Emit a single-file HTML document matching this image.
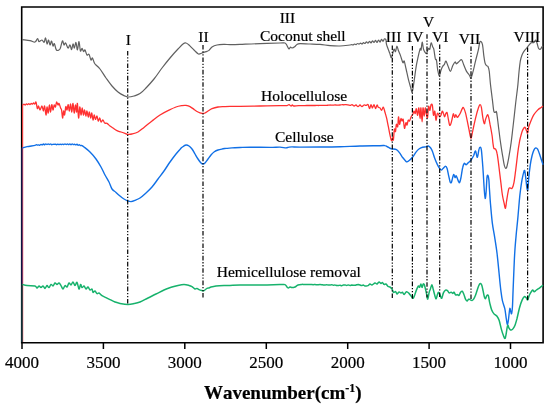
<!DOCTYPE html>
<html><head><meta charset="utf-8"><title>FTIR spectra</title>
<style>html,body{margin:0;padding:0;background:#fff}body{width:550px;height:411px;position:relative;overflow:hidden}</style>
</head><body>
<svg width="550" height="411" viewBox="0 0 550 411" style="position:absolute;left:0;top:0">
<rect width="550" height="411" fill="#fff"/>
<path d="M21.7,6.25 V343.55 M543.1,6.25 V343.55 M20.9,7.05 H543.9 M20.9,342.75 H543.9" fill="none" stroke="#000" stroke-width="1.6"/>
<line x1="22.0" y1="342.5" x2="22.0" y2="349" stroke="#000" stroke-width="1.5"/>
<line x1="103.4" y1="342.5" x2="103.4" y2="349" stroke="#000" stroke-width="1.5"/>
<line x1="184.8" y1="342.5" x2="184.8" y2="349" stroke="#000" stroke-width="1.5"/>
<line x1="266.3" y1="342.5" x2="266.3" y2="349" stroke="#000" stroke-width="1.5"/>
<line x1="347.7" y1="342.5" x2="347.7" y2="349" stroke="#000" stroke-width="1.5"/>
<line x1="429.1" y1="342.5" x2="429.1" y2="349" stroke="#000" stroke-width="1.5"/>
<line x1="510.5" y1="342.5" x2="510.5" y2="349" stroke="#000" stroke-width="1.5"/>
<path d="M22.7,104.6 V342" stroke="#ff3030" stroke-width="1.0"/>
<path d="M22,147.6 V342" stroke="#1b2c86" stroke-width="1.0"/>
<path d="M22,284 V342" stroke="#104a2c" stroke-width="1.0"/>
<g fill="none" stroke-linejoin="round" stroke-linecap="butt">
<path d="M22.0,39.6C23.3,39.8 27.8,40.2 30.0,40.6C32.2,41.0 33.7,42.3 35.0,42.0C36.3,41.7 36.9,38.7 37.6,38.6C38.3,38.5 38.3,41.4 39.0,41.6C39.7,41.8 41.2,39.9 42.0,40.0C42.8,40.1 43.4,42.7 44.0,42.4C44.6,42.1 45.1,37.7 45.6,38.0C46.1,38.3 46.5,43.7 47.0,44.0C47.5,44.3 48.1,39.8 48.6,40.0C49.1,40.2 49.5,44.8 50.0,45.0C50.5,45.2 51.1,40.8 51.6,41.0C52.1,41.2 52.5,45.6 53.0,46.0C53.5,46.4 53.8,42.9 54.4,43.6C55.0,44.3 55.5,49.1 56.4,50.0C57.3,50.9 59.0,50.5 60.0,49.0C61.0,47.5 61.7,41.7 62.4,41.0C63.1,40.3 63.5,44.7 64.0,45.0C64.5,45.3 64.9,42.5 65.6,43.0C66.3,43.5 67.3,47.7 68.0,48.0C68.7,48.3 69.4,44.7 70.0,45.0C70.6,45.3 71.1,49.8 71.6,49.6C72.1,49.4 72.5,44.3 73.0,44.0C73.5,43.7 73.9,48.3 74.4,48.0C74.9,47.7 75.5,42.1 76.0,42.4C76.5,42.7 76.9,50.1 77.4,50.0C77.9,49.9 78.5,41.4 79.0,41.6C79.5,41.8 79.9,49.9 80.4,51.0C80.9,52.1 81.5,48.3 82.0,48.4C82.5,48.5 83.1,51.3 83.6,51.6C84.1,51.9 84.4,49.4 85.0,50.0C85.6,50.6 86.3,54.3 87.0,55.0C87.7,55.7 88.3,53.6 89.0,54.4C89.7,55.2 90.4,59.4 91.0,60.0C91.6,60.6 91.8,57.5 92.4,58.0C93.0,58.5 93.8,61.8 94.4,63.0C95.0,64.2 95.1,64.0 96.0,65.0C96.9,66.0 98.3,66.8 100.0,69.0C101.7,71.2 104.0,75.2 106.0,78.0C108.0,80.8 110.0,83.7 112.0,86.0C114.0,88.3 116.0,90.4 118.0,92.0C120.0,93.6 122.3,94.8 124.0,95.6C125.7,96.4 126.3,96.9 128.0,97.0C129.7,97.1 132.0,96.6 134.0,96.0C136.0,95.4 138.0,94.9 140.0,93.6C142.0,92.3 143.7,90.4 146.0,88.0C148.3,85.6 151.3,82.3 154.0,79.0C156.7,75.7 159.3,71.5 162.0,68.0C164.7,64.5 167.3,61.2 170.0,58.0C172.7,54.8 175.8,51.3 178.0,49.0C180.2,46.7 181.7,45.0 183.0,44.0C184.3,43.0 185.0,42.8 186.0,43.0C187.0,43.2 187.7,43.8 189.0,45.0C190.3,46.2 192.4,48.5 194.0,50.0C195.6,51.5 197.1,53.5 198.4,54.0C199.7,54.5 200.7,53.4 202.0,53.0C203.3,52.6 204.8,52.0 206.0,51.6C207.2,51.2 208.0,51.2 209.0,50.4C210.0,49.6 210.7,47.9 212.0,47.0C213.3,46.1 215.0,45.4 217.0,45.0C219.0,44.6 221.8,44.5 224.0,44.4C226.2,44.3 227.3,44.6 230.0,44.6C232.7,44.6 235.0,44.6 240.0,44.4C245.0,44.2 253.3,43.8 260.0,43.6C266.7,43.4 275.8,43.1 280.0,43.0C284.2,42.9 283.8,42.6 285.0,43.0C286.2,43.4 286.3,44.6 287.0,45.6C287.7,46.6 288.4,48.8 289.0,49.0C289.6,49.2 289.9,47.2 290.4,47.0C290.9,46.8 291.2,48.1 292.0,48.0C292.8,47.9 294.2,47.0 295.0,46.4C295.8,45.8 296.2,44.9 297.0,44.4C297.8,43.9 297.8,43.7 300.0,43.6C302.2,43.5 306.7,43.9 310.0,44.0C313.3,44.1 316.7,44.1 320.0,44.4C323.3,44.7 326.7,45.3 330.0,45.6C333.3,45.9 336.7,46.1 340.0,46.0C343.3,45.9 348.1,45.2 350.0,45.0C351.9,44.8 351.0,44.6 351.5,44.5C352.0,44.5 352.5,45.0 353.0,44.9C353.5,44.8 354.0,44.1 354.5,44.0C355.0,44.0 355.5,44.7 356.0,44.6C356.5,44.5 357.0,43.5 357.5,43.5C358.0,43.4 358.5,44.2 359.0,44.1C359.5,44.1 360.0,43.2 360.5,43.1C361.0,43.1 361.5,44.1 362.0,44.0C362.5,43.9 363.0,42.7 363.5,42.6C364.0,42.5 364.5,43.6 365.0,43.5C365.5,43.4 366.0,41.9 366.5,41.8C367.0,41.8 367.5,43.3 368.0,43.2C368.5,43.2 369.0,41.4 369.5,41.4C370.0,41.3 370.5,43.0 371.0,42.9C371.5,42.8 372.0,41.0 372.5,40.9C373.0,40.8 373.5,42.5 374.0,42.4C374.5,42.4 375.0,40.4 375.5,40.4C376.0,40.4 376.5,42.5 377.0,42.5C377.5,42.4 378.0,40.0 378.5,40.0C379.0,39.9 379.5,42.2 380.0,42.1C380.5,42.0 381.0,39.5 381.5,39.4C382.0,39.3 382.5,41.4 383.0,41.3C383.5,41.3 384.0,39.0 384.5,38.8C385.0,38.6 385.7,39.1 386.0,40.0C386.3,40.9 385.9,42.2 386.5,44.4C387.1,46.6 389.0,51.2 389.8,53.4C390.6,55.6 390.8,58.2 391.5,57.5C392.2,56.8 393.2,50.3 393.9,49.3C394.6,48.3 395.0,52.2 395.5,51.7C396.0,51.2 396.4,46.2 396.9,46.1C397.4,46.0 397.9,49.2 398.5,50.8C399.1,52.4 399.8,53.6 400.5,55.6C401.2,57.6 402.3,61.8 402.9,62.7C403.5,63.6 403.7,60.1 404.2,61.1C404.7,62.1 405.4,66.0 406.1,69.0C406.8,72.0 407.6,76.1 408.4,79.3C409.2,82.5 410.2,85.8 410.8,88.0C411.4,90.2 411.7,92.4 412.1,92.3C412.5,92.2 412.8,89.9 413.2,87.2C413.6,84.5 414.3,79.8 414.8,76.1C415.3,72.4 415.8,68.5 416.4,65.1C417.0,61.7 417.8,58.4 418.4,55.6C419.0,52.8 419.9,49.3 420.3,48.4C420.8,47.5 420.8,51.0 421.1,50.0C421.4,49.0 421.8,42.2 422.2,42.1C422.6,42.0 423.0,47.5 423.5,49.2C424.0,50.9 424.6,51.7 425.1,52.4C425.6,53.1 426.0,53.9 426.6,53.2C427.2,52.5 428.0,49.1 428.5,48.4C429.0,47.7 429.4,50.1 429.8,49.2C430.2,48.3 430.6,43.3 431.1,42.9C431.6,42.5 432.2,45.8 432.7,46.9C433.1,48.0 433.4,47.2 433.8,49.2C434.2,51.2 434.9,56.9 435.3,58.7C435.8,60.6 436.1,58.4 436.5,60.3C436.9,62.1 437.2,67.2 437.7,69.8C438.2,72.4 438.8,76.0 439.3,76.1C439.8,76.2 440.4,72.2 440.9,70.6C441.4,69.0 441.9,67.6 442.5,66.6C443.1,65.5 443.8,65.2 444.4,64.3C445.0,63.4 445.3,60.8 445.9,61.1C446.5,61.4 447.2,64.2 448.0,65.9C448.8,67.6 449.6,71.5 450.4,71.4C451.2,71.3 452.0,67.1 452.8,65.5C453.6,63.9 454.5,62.3 455.1,62.0C455.7,61.7 455.7,63.9 456.4,63.8C457.1,63.7 458.2,62.2 459.1,61.5C460.0,60.8 460.8,59.3 461.6,59.8C462.4,60.3 462.9,62.8 463.7,64.7C464.5,66.6 465.5,69.4 466.4,71.1C467.3,72.8 468.4,73.9 469.2,75.0C470.0,76.1 470.4,78.2 471.0,77.8C471.6,77.4 472.1,75.2 472.8,72.4C473.6,69.6 474.6,64.8 475.5,61.1C476.4,57.4 477.6,53.2 478.3,50.1C479.0,47.0 479.2,44.2 479.6,42.8C480.1,41.3 480.5,41.1 481.0,41.4C481.5,41.7 482.0,42.3 482.5,44.7C483.0,47.1 483.4,52.6 483.8,55.6C484.2,58.6 484.6,61.2 485.0,62.9C485.4,64.6 486.0,65.1 486.5,65.7C487.0,66.3 487.6,65.7 488.0,66.6C488.4,67.5 488.8,68.0 489.2,71.0C489.6,74.0 490.0,79.9 490.5,84.6C491.0,89.3 491.8,94.8 492.3,99.2C492.9,103.6 493.3,108.8 493.8,111.0C494.3,113.2 494.9,112.1 495.3,112.3C495.8,112.5 496.1,110.5 496.5,112.0C496.9,113.5 497.4,118.0 497.8,121.0C498.2,124.0 498.3,125.8 498.9,130.0C499.4,134.2 500.4,141.8 501.1,146.4C501.8,151.0 502.3,154.2 502.9,157.4C503.4,160.6 503.9,163.8 504.4,165.6C504.9,167.4 505.3,168.2 505.7,168.3C506.1,168.5 506.4,168.3 506.9,166.5C507.4,164.7 508.1,161.3 508.8,157.4C509.5,153.5 510.4,147.9 511.1,142.8C511.8,137.7 512.2,133.7 513.0,127.0C513.8,120.3 514.9,109.9 515.7,102.8C516.5,95.7 517.4,89.7 517.9,84.6C518.4,79.5 518.6,75.9 519.0,72.0C519.4,68.1 519.8,64.0 520.3,61.1C520.8,58.2 521.4,56.5 522.1,54.7C522.9,52.9 524.0,51.2 524.8,50.1C525.5,49.0 526.0,49.0 526.6,48.3C527.2,47.5 527.7,46.5 528.5,45.6C529.3,44.7 530.3,43.3 531.2,42.8C532.1,42.3 533.1,43.0 533.9,42.5C534.7,42.0 535.2,39.9 535.8,40.1C536.3,40.3 536.8,42.4 537.2,43.8C537.7,45.2 538.0,47.4 538.5,48.3C539.0,49.2 539.7,49.5 540.3,49.2C540.9,48.9 541.8,47.0 542.2,46.5C542.7,46.0 542.9,46.1 543.0,46.0" stroke="#606060" stroke-width="1.2"/>
<path d="M22.5,105.0C22.8,104.9 23.6,104.2 24.0,104.2C24.4,104.2 24.8,105.1 25.2,105.0C25.6,104.9 26.0,103.9 26.4,103.8C26.8,103.7 27.2,104.6 27.6,104.6C28.0,104.6 28.4,103.6 28.8,103.6C29.2,103.6 29.6,104.6 30.0,104.6C30.4,104.6 30.8,103.5 31.2,103.4C31.6,103.3 32.0,104.3 32.4,104.2C32.8,104.1 33.2,103.0 33.6,103.0C34.0,103.0 34.4,104.2 34.8,104.0C35.2,103.8 35.6,101.2 36.0,102.0C36.4,102.8 37.0,107.9 37.4,108.6C37.8,109.3 38.2,105.8 38.6,106.0C39.0,106.2 39.4,110.0 40.0,110.0C40.6,110.0 41.4,105.8 42.0,106.0C42.6,106.2 43.0,111.0 43.4,111.0C43.8,111.0 44.2,105.3 44.6,106.0C45.0,106.7 45.6,114.8 46.0,115.0C46.4,115.2 46.6,107.3 47.0,107.0C47.4,106.7 47.8,113.3 48.2,113.0C48.6,112.7 49.0,105.2 49.4,105.0C49.8,104.8 50.2,112.1 50.6,112.0C51.0,111.9 51.4,104.9 51.8,104.6C52.2,104.3 52.6,109.9 53.0,110.0C53.4,110.1 53.8,105.5 54.2,105.0C54.6,104.5 55.0,107.5 55.4,107.0C55.8,106.5 56.2,102.3 56.6,102.0C57.0,101.7 57.6,104.8 58.0,105.0C58.4,105.2 58.6,102.9 59.0,103.4C59.4,103.9 60.2,106.9 60.6,108.0C61.0,109.1 61.3,108.3 61.6,110.0C61.9,111.7 62.3,117.8 62.6,118.0C62.9,118.2 63.3,111.5 63.6,111.0C63.9,110.5 64.2,115.7 64.6,115.0C65.0,114.3 65.4,107.4 65.8,106.6C66.2,105.8 66.6,110.3 67.0,110.0C67.4,109.7 67.8,104.4 68.2,104.6C68.6,104.8 69.0,111.1 69.4,111.0C69.8,110.9 70.2,103.8 70.6,104.0C71.0,104.2 71.4,112.1 71.8,112.0C72.2,111.9 72.6,103.2 73.0,103.4C73.4,103.6 73.8,112.7 74.2,113.0C74.6,113.3 75.0,105.2 75.4,105.0C75.8,104.8 76.3,112.3 76.6,112.0C76.9,111.7 77.1,102.4 77.4,103.4C77.7,104.4 78.2,117.4 78.6,118.0C79.0,118.6 79.4,107.5 79.8,107.0C80.2,106.5 80.6,114.8 81.0,115.0C81.4,115.2 81.8,108.0 82.2,108.0C82.6,108.0 83.0,114.7 83.4,115.0C83.8,115.3 84.2,109.8 84.6,110.0C85.0,110.2 85.4,115.8 85.8,116.0C86.2,116.2 86.6,110.8 87.0,111.0C87.4,111.2 87.8,116.8 88.2,117.0C88.6,117.2 89.0,111.8 89.4,112.0C89.8,112.2 90.2,117.8 90.6,118.0C91.0,118.2 91.4,112.7 91.8,113.0C92.2,113.3 92.6,119.7 93.0,120.0C93.4,120.3 93.8,115.1 94.2,115.0C94.6,114.9 94.9,119.2 95.4,119.4C95.9,119.6 96.5,115.7 97.0,116.0C97.5,116.3 97.7,120.7 98.2,121.0C98.7,121.3 99.3,117.8 99.8,118.0C100.3,118.2 100.5,121.7 101.0,122.0C101.5,122.3 102.4,119.8 103.0,120.0C103.6,120.2 103.9,122.4 104.6,123.0C105.3,123.6 106.1,122.9 107.0,123.4C107.9,123.9 109.0,125.2 110.0,126.0C111.0,126.8 111.8,127.2 113.0,128.0C114.2,128.8 115.7,129.9 117.0,130.6C118.3,131.3 119.7,131.5 121.0,132.0C122.3,132.5 123.8,133.0 125.0,133.4C126.2,133.8 126.8,134.3 128.0,134.4C129.2,134.5 130.3,134.4 132.0,134.0C133.7,133.6 136.0,133.1 138.0,132.0C140.0,130.9 141.7,129.2 144.0,127.4C146.3,125.6 149.3,123.1 152.0,121.0C154.7,118.9 157.3,116.7 160.0,115.0C162.7,113.3 165.3,111.9 168.0,110.6C170.7,109.3 173.7,107.8 176.0,107.0C178.3,106.2 180.3,105.9 182.0,105.6C183.7,105.3 184.7,105.2 186.0,105.4C187.3,105.6 188.7,105.9 190.0,106.6C191.3,107.3 192.7,108.5 194.0,109.4C195.3,110.3 196.7,111.3 198.0,112.0C199.3,112.7 200.8,113.2 202.0,113.4C203.2,113.6 204.0,113.4 205.0,113.0C206.0,112.6 206.8,111.7 208.0,111.0C209.2,110.3 210.3,109.3 212.0,108.6C213.7,107.9 216.0,107.3 218.0,107.0C220.0,106.7 222.0,106.7 224.0,106.6C226.0,106.5 227.3,106.4 230.0,106.4C232.7,106.4 235.0,106.5 240.0,106.4C245.0,106.3 253.3,106.1 260.0,106.0C266.7,105.9 275.5,105.7 280.0,105.6C284.5,105.5 285.5,105.8 287.0,105.6C288.5,105.4 288.3,104.5 289.0,104.6C289.7,104.7 290.4,105.9 291.0,106.0C291.6,106.1 291.9,105.0 292.4,105.0C292.9,105.0 292.7,105.9 294.0,106.0C295.3,106.1 298.7,105.7 300.0,105.6C301.3,105.5 301.1,105.6 301.7,105.6C302.2,105.6 302.8,105.6 303.3,105.6C303.9,105.6 304.4,105.6 305.0,105.6C305.6,105.5 306.1,105.5 306.7,105.5C307.2,105.5 307.8,105.5 308.3,105.5C308.9,105.5 309.4,105.5 310.0,105.5C310.6,105.5 311.1,105.5 311.7,105.5C312.2,105.5 312.8,105.5 313.3,105.5C313.9,105.5 314.4,105.5 315.0,105.5C315.6,105.4 316.1,105.4 316.7,105.4C317.2,105.4 317.8,105.5 318.3,105.5C318.9,105.5 319.4,105.4 320.0,105.4C320.6,105.4 321.1,105.3 321.7,105.3C322.2,105.3 322.8,105.3 323.3,105.3C323.9,105.3 324.4,105.4 325.0,105.4C325.6,105.4 326.1,105.3 326.7,105.3C327.2,105.2 327.8,105.3 328.3,105.2C328.9,105.2 329.4,105.1 330.0,105.0C330.6,105.0 331.1,105.1 331.7,105.1C332.2,105.2 332.8,105.2 333.3,105.2C333.9,105.1 334.4,104.9 335.0,104.9C335.6,104.9 336.1,105.1 336.7,105.1C337.2,105.1 337.8,105.1 338.3,105.1C338.9,105.1 339.4,105.1 340.0,105.0C340.6,104.9 341.3,104.7 342.0,104.7C342.7,104.6 343.3,104.8 344.0,104.8C344.7,104.8 345.0,104.5 346.0,104.6C347.0,104.7 349.0,105.4 350.0,105.4C351.0,105.4 351.3,104.5 352.0,104.6C352.7,104.7 353.3,105.9 354.0,106.0C354.7,106.1 355.3,104.9 356.0,105.0C356.7,105.1 357.3,106.6 358.0,106.6C358.7,106.6 359.3,105.0 360.0,105.0C360.7,105.0 361.3,106.6 362.0,106.6C362.7,106.6 363.3,105.2 364.0,105.0C364.7,104.8 365.3,105.5 366.0,105.4C366.7,105.3 367.4,104.1 368.0,104.6C368.6,105.1 369.1,108.6 369.6,108.6C370.1,108.6 370.5,104.7 371.0,104.6C371.5,104.5 371.9,108.0 372.4,108.0C372.9,108.0 373.5,104.5 374.0,104.6C374.5,104.7 375.1,108.5 375.6,108.6C376.1,108.7 376.5,105.2 377.0,105.0C377.5,104.8 377.9,106.9 378.4,107.4C378.9,107.9 379.5,107.4 380.0,107.9C380.5,108.4 381.1,110.5 381.6,110.4C382.2,110.3 382.8,106.8 383.3,107.1C383.9,107.4 384.4,110.2 384.9,112.0C385.4,113.8 385.9,115.4 386.5,117.7C387.1,120.0 387.6,123.2 388.2,125.9C388.8,128.6 389.2,131.7 389.8,134.1C390.4,136.5 391.0,140.0 391.5,140.6C392.0,141.2 392.5,137.5 392.8,137.4C393.1,137.3 393.1,141.2 393.4,139.8C393.7,138.4 394.0,130.6 394.4,129.2C394.8,127.8 395.2,132.4 395.5,131.6C395.8,130.8 396.0,125.1 396.4,124.3C396.8,123.5 397.3,127.9 397.7,126.7C398.1,125.5 398.2,117.3 398.5,116.9C398.8,116.5 399.2,124.0 399.6,124.3C400.0,124.6 400.5,119.1 400.9,118.6C401.3,118.0 401.7,120.9 402.1,121.0C402.5,121.1 402.8,118.2 403.2,119.4C403.6,120.6 404.1,127.9 404.5,128.4C404.9,128.9 405.5,123.1 405.9,122.6C406.3,122.0 406.6,125.5 407.0,125.1C407.4,124.7 407.8,120.9 408.2,120.2C408.6,119.5 409.0,121.5 409.5,121.0C410.0,120.5 410.6,118.0 411.1,116.9C411.6,115.8 412.2,115.5 412.7,114.5C413.2,113.5 413.6,111.4 414.0,111.2C414.4,111.0 414.8,114.0 415.2,113.6C415.6,113.2 415.9,108.4 416.3,108.7C416.7,109.0 417.2,115.4 417.6,115.3C418.0,115.2 418.4,107.4 418.8,107.9C419.2,108.5 419.8,118.6 420.1,118.6C420.5,118.6 420.6,107.4 420.9,107.9C421.2,108.4 421.8,121.8 422.1,121.8C422.5,121.8 422.6,108.9 423.0,107.9C423.4,107.0 423.8,116.1 424.2,116.1C424.6,116.1 424.9,108.3 425.3,107.9C425.7,107.5 425.9,112.0 426.3,113.6C426.7,115.2 427.1,118.9 427.5,117.7C427.9,116.5 428.2,107.5 428.6,106.3C429.0,105.1 429.5,110.7 429.9,110.4C430.3,110.1 430.7,105.4 431.1,104.6C431.5,103.8 432.0,103.7 432.4,105.5C432.8,107.3 433.1,114.3 433.5,115.3C433.9,116.2 434.4,110.4 434.8,111.2C435.2,112.0 435.6,119.8 436.0,120.2C436.4,120.6 436.9,114.5 437.3,113.6C437.7,112.6 438.2,114.0 438.6,114.5C439.0,115.0 439.3,116.8 439.7,116.9C440.1,117.0 440.5,116.2 440.9,115.3C441.3,114.3 441.8,111.5 442.2,111.2C442.6,110.9 443.1,112.6 443.5,113.6C443.9,114.5 444.2,116.9 444.6,116.9C445.0,116.9 445.4,114.3 445.8,113.6C446.2,112.9 446.7,111.8 447.1,112.8C447.5,113.8 448.0,117.4 448.4,119.4C448.8,121.5 449.2,124.3 449.6,125.1C450.0,125.9 450.3,125.2 450.7,124.3C451.1,123.4 451.6,121.2 452.0,119.5C452.4,117.8 452.9,114.1 453.3,113.8C453.7,113.5 454.2,117.2 454.6,117.4C455.0,117.6 455.4,114.7 455.8,114.7C456.2,114.7 456.8,117.2 457.3,117.4C457.8,117.6 458.4,116.2 458.8,115.6C459.2,115.0 459.4,115.0 460.0,113.8C460.6,112.6 461.8,109.3 462.4,108.3C463.0,107.3 463.2,107.2 463.7,108.0C464.2,108.8 464.9,110.7 465.5,112.9C466.1,115.1 466.7,118.1 467.3,121.1C467.9,124.1 468.7,128.1 469.3,131.0C469.9,133.9 470.4,138.4 471.0,138.4C471.6,138.4 471.9,134.3 472.7,131.0C473.4,127.7 474.6,122.2 475.5,118.4C476.4,114.6 477.5,110.6 478.3,108.3C479.1,106.0 479.6,104.8 480.1,104.7C480.6,104.6 480.9,105.3 481.4,107.4C481.8,109.5 482.3,114.7 482.8,117.4C483.3,120.1 483.8,123.5 484.3,123.8C484.8,124.1 485.1,120.8 485.6,119.3C486.1,117.8 486.9,115.0 487.4,114.7C487.9,114.4 488.2,115.7 488.7,117.4C489.1,119.1 489.6,121.8 490.1,124.7C490.7,127.6 491.5,132.0 492.0,135.0C492.5,138.0 492.6,140.6 492.9,142.8C493.2,145.0 493.4,147.1 493.8,148.2C494.2,149.3 495.1,148.3 495.6,149.2C496.2,150.1 496.6,150.8 497.1,153.7C497.7,156.6 498.3,161.6 498.9,166.5C499.5,171.4 500.3,178.2 500.9,182.9C501.5,187.7 501.8,191.6 502.4,195.0C502.9,198.4 503.7,201.3 504.2,203.5C504.7,205.7 505.0,208.7 505.4,208.3C505.8,207.9 506.2,203.5 506.6,201.0C507.0,198.5 507.4,195.6 507.8,193.5C508.2,191.4 508.5,189.5 508.9,188.6C509.3,187.7 509.7,188.0 510.2,188.0C510.7,188.0 511.4,189.2 512.0,188.4C512.6,187.6 513.3,186.0 513.9,182.9C514.5,179.8 515.0,175.3 515.7,170.1C516.4,164.9 517.3,156.4 517.9,151.9C518.5,147.4 518.9,145.3 519.3,143.0C519.7,140.7 519.8,139.9 520.3,138.0C520.8,136.1 521.5,133.2 522.1,131.5C522.7,129.8 523.4,128.7 523.9,128.0C524.4,127.3 524.8,127.0 525.2,127.5C525.7,128.0 526.2,130.2 526.6,131.1C527.0,132.0 527.2,133.8 527.6,133.0C528.0,132.2 528.2,128.7 528.8,126.6C529.4,124.5 530.4,122.2 531.2,120.2C532.1,118.2 532.8,116.4 533.9,114.7C535.0,113.0 536.4,111.3 537.6,110.1C538.8,108.9 540.3,108.1 541.2,107.4C542.1,106.7 542.7,106.3 543.0,106.1" stroke="#ff3030" stroke-width="1.3"/>
<path d="M22.5,148.0C23.2,147.8 24.9,147.0 27.0,146.6C29.1,146.2 33.5,145.7 35.0,145.4C36.5,145.1 35.8,144.9 36.2,144.8C36.6,144.8 37.0,145.1 37.4,145.1C37.8,145.1 38.2,144.9 38.6,144.9C39.0,144.9 39.4,145.2 39.8,145.2C40.2,145.1 40.6,144.5 41.0,144.4C41.4,144.4 41.8,144.9 42.2,144.9C42.6,144.8 43.0,144.1 43.4,144.0C43.8,144.0 44.2,144.7 44.6,144.7C45.0,144.6 45.4,143.9 45.8,143.9C46.2,143.9 46.6,144.5 47.0,144.5C47.4,144.5 47.8,143.9 48.2,143.9C48.6,143.9 49.0,144.5 49.4,144.5C49.8,144.5 50.2,143.8 50.6,143.9C51.0,143.9 51.4,144.6 51.8,144.7C52.2,144.8 52.6,144.3 53.0,144.3C53.4,144.2 53.8,144.4 54.2,144.4C54.6,144.4 55.0,144.1 55.4,144.2C55.8,144.3 56.2,144.8 56.6,144.7C57.0,144.7 57.4,144.1 57.8,144.1C58.2,144.1 58.6,144.6 59.0,144.6C59.4,144.6 59.8,144.2 60.2,144.2C60.6,144.2 61.0,144.5 61.4,144.5C61.8,144.5 62.2,144.1 62.6,144.1C63.0,144.1 63.4,144.5 63.8,144.5C64.2,144.4 64.6,144.0 65.0,144.0C65.4,144.1 65.8,144.6 66.2,144.6C66.6,144.5 67.0,143.9 67.4,143.9C67.8,143.9 68.2,144.6 68.6,144.6C69.0,144.6 69.4,143.9 69.8,143.9C70.2,143.9 70.6,144.7 71.0,144.7C71.4,144.7 71.8,143.9 72.2,143.9C72.6,143.8 73.0,144.6 73.4,144.6C73.8,144.7 74.2,144.3 74.6,144.3C75.0,144.4 75.4,144.9 75.8,144.9C76.2,144.9 76.6,144.1 77.0,144.2C77.4,144.3 77.8,145.1 78.2,145.2C78.6,145.3 79.0,144.7 79.4,144.8C79.8,144.8 80.2,145.5 80.6,145.6C81.0,145.7 81.2,145.2 81.8,145.5C82.4,145.7 82.6,145.9 84.0,147.0C85.4,148.1 88.0,150.0 90.0,152.0C92.0,154.0 94.2,156.5 96.0,159.0C97.8,161.5 99.5,164.3 101.0,167.0C102.5,169.7 103.7,172.5 105.0,175.0C106.3,177.5 107.8,179.7 109.0,182.0C110.2,184.3 110.8,187.3 112.0,189.0C113.2,190.7 114.7,191.2 116.0,192.4C117.3,193.6 118.7,194.9 120.0,196.0C121.3,197.1 122.7,198.2 124.0,199.0C125.3,199.8 126.8,200.6 128.0,201.0C129.2,201.4 129.8,201.7 131.0,201.6C132.2,201.5 133.5,201.0 135.0,200.4C136.5,199.8 138.2,199.2 140.0,198.0C141.8,196.8 144.0,194.8 146.0,193.0C148.0,191.2 150.0,189.3 152.0,187.0C154.0,184.7 156.0,181.7 158.0,179.0C160.0,176.3 162.0,173.8 164.0,171.0C166.0,168.2 168.0,164.8 170.0,162.0C172.0,159.2 174.3,156.1 176.0,154.0C177.7,151.9 179.0,150.5 180.0,149.4C181.0,148.3 181.0,148.0 182.0,147.3C183.0,146.6 184.8,145.2 186.0,145.0C187.2,144.8 188.0,145.3 189.0,146.0C190.0,146.7 191.0,147.7 192.0,149.0C193.0,150.3 194.0,152.3 195.0,154.0C196.0,155.7 197.0,157.5 198.0,159.0C199.0,160.5 200.2,162.2 201.0,163.0C201.8,163.8 202.3,164.0 203.0,164.0C203.7,164.0 204.2,163.8 205.0,163.0C205.8,162.2 207.0,160.3 208.0,159.0C209.0,157.7 210.0,156.2 211.0,155.0C212.0,153.8 212.8,152.8 214.0,152.0C215.2,151.2 216.5,150.5 218.0,150.0C219.5,149.5 221.7,149.1 223.0,148.8C224.3,148.5 224.5,148.6 226.0,148.4C227.5,148.2 229.7,148.1 232.0,147.9C234.3,147.8 237.0,147.6 240.0,147.5C243.0,147.4 245.0,147.2 250.0,147.2C255.0,147.2 265.0,147.4 270.0,147.4C275.0,147.4 277.3,147.0 280.0,147.1C282.7,147.2 284.5,147.9 286.0,147.9C287.5,147.9 288.0,147.3 289.0,147.1C290.0,146.9 290.2,146.9 292.0,146.9C293.8,146.9 295.3,147.1 300.0,147.1C304.7,147.1 313.3,147.1 320.0,147.0C326.7,146.9 333.3,147.0 340.0,146.8C346.7,146.6 353.3,146.2 360.0,146.0C366.7,145.8 375.9,145.8 380.0,145.7C384.1,145.6 383.5,145.3 384.9,145.6C386.3,145.8 387.1,146.7 388.2,147.2C389.3,147.7 390.1,148.4 391.5,148.8C392.9,149.2 395.0,148.9 396.4,149.6C397.8,150.3 398.5,151.5 399.6,152.9C400.7,154.3 401.9,156.5 402.9,157.8C403.9,159.1 404.7,160.1 405.4,160.8C406.1,161.5 406.3,162.0 407.0,161.9C407.7,161.8 408.6,161.1 409.5,160.3C410.4,159.5 411.6,158.4 412.7,157.0C413.8,155.6 414.9,153.5 416.0,152.1C417.1,150.7 418.2,149.6 419.3,148.8C420.4,148.0 421.5,147.5 422.6,147.2C423.7,146.9 424.9,147.1 425.8,146.9C426.8,146.7 427.5,145.8 428.3,146.0C429.1,146.2 430.0,147.1 430.7,148.0C431.4,148.9 431.7,149.5 432.4,151.3C433.1,153.1 434.0,156.4 434.8,158.6C435.6,160.8 436.5,162.8 437.3,164.4C438.1,166.1 439.0,167.6 439.7,168.5C440.4,169.4 440.8,170.1 441.4,170.1C441.9,170.1 442.3,169.1 443.0,168.5C443.7,167.9 444.8,166.3 445.5,166.3C446.2,166.3 446.6,166.9 447.1,168.5C447.6,170.1 448.2,173.6 448.7,175.8C449.2,178.0 449.6,180.4 450.0,181.6C450.4,182.8 450.8,183.1 451.2,182.7C451.6,182.3 451.9,180.5 452.3,179.1C452.7,177.7 453.2,174.8 453.6,174.5C454.1,174.2 454.6,177.3 455.0,177.5C455.4,177.7 455.7,175.7 456.1,175.8C456.5,175.9 456.9,177.3 457.3,178.3C457.7,179.3 458.2,180.9 458.6,181.6C459.0,182.3 459.3,183.1 459.7,182.4C460.1,181.7 460.5,180.0 461.0,177.5C461.5,175.0 462.1,169.8 462.7,167.5C463.2,165.2 463.7,163.9 464.3,163.4C464.9,162.9 465.5,164.8 466.1,164.7C466.8,164.6 467.4,163.6 468.2,162.8C469.0,162.0 470.1,161.3 471.0,160.1C471.9,158.9 472.9,157.0 473.7,155.5C474.4,154.0 474.9,150.7 475.5,151.0C476.1,151.3 476.8,157.6 477.4,157.4C477.9,157.2 478.4,151.8 478.8,150.1C479.2,148.4 479.7,147.3 480.1,147.3C480.5,147.3 480.9,146.9 481.4,150.1C481.8,153.3 482.3,159.8 482.8,166.5C483.3,173.2 483.9,184.9 484.3,190.2C484.7,195.5 484.9,198.1 485.2,198.4C485.5,198.7 485.8,195.5 486.1,192.0C486.4,188.5 486.7,180.1 487.0,177.4C487.3,174.7 487.7,175.1 488.0,175.6C488.3,176.1 488.6,177.8 488.9,180.2C489.1,182.6 489.2,186.0 489.5,190.0C489.8,194.0 490.0,198.5 490.5,204.0C491.0,209.5 491.6,217.2 492.3,222.8C493.0,228.4 493.9,232.4 494.7,237.4C495.5,242.4 496.3,247.2 497.0,253.0C497.7,258.9 498.4,266.3 499.0,272.5C499.6,278.7 500.2,285.3 500.8,290.0C501.4,294.7 501.7,297.6 502.4,300.7C503.1,303.8 504.1,305.6 504.8,308.7C505.5,311.8 505.9,316.8 506.4,319.4C506.8,322.0 507.1,324.5 507.5,324.4C507.9,324.2 508.3,320.8 508.6,318.5C508.9,316.2 509.2,312.2 509.5,310.5C509.8,308.8 509.8,307.9 510.1,308.5C510.4,309.1 511.1,314.1 511.5,313.9C511.9,313.7 512.1,311.5 512.4,307.5C512.7,303.5 512.8,296.6 513.1,290.0C513.4,283.4 513.7,274.3 514.0,268.0C514.3,261.7 514.4,257.4 514.8,252.0C515.1,246.6 515.6,241.4 516.1,235.6C516.6,229.8 517.4,223.2 517.9,217.4C518.4,211.6 518.9,205.6 519.3,201.0C519.7,196.4 520.0,193.6 520.5,190.0C521.0,186.4 521.5,182.4 522.1,179.3C522.7,176.2 523.5,173.0 523.9,171.6C524.3,170.2 524.5,170.0 524.8,171.0C525.1,172.0 525.3,174.5 525.7,177.4C526.1,180.3 526.6,186.4 527.0,188.4C527.4,190.4 527.6,191.1 527.9,189.3C528.2,187.5 528.4,181.5 528.8,177.4C529.2,173.3 529.8,168.3 530.3,164.7C530.8,161.0 531.5,157.9 532.1,155.5C532.7,153.1 533.3,151.4 533.9,150.1C534.5,148.8 535.2,148.1 535.8,147.9C536.4,147.8 537.0,148.2 537.6,149.2C538.2,150.2 538.8,152.0 539.4,153.7C540.0,155.4 540.6,157.4 541.2,159.2C541.8,161.0 542.7,163.8 543.0,164.7" stroke="#1170e6" stroke-width="1.4"/>
<path d="M22.5,284.4C23.2,284.6 24.9,285.3 27.0,285.6C29.1,285.9 33.3,285.6 35.0,286.0C36.7,286.4 36.3,288.0 37.0,288.0C37.7,288.0 38.3,286.1 39.0,286.0C39.7,285.9 40.3,287.6 41.0,287.6C41.7,287.6 42.3,285.9 43.0,286.0C43.7,286.1 44.3,288.5 45.0,288.4C45.7,288.3 46.3,285.7 47.0,285.6C47.7,285.5 48.3,287.8 49.0,287.6C49.7,287.4 50.3,284.7 51.0,284.4C51.7,284.1 52.3,286.2 53.0,286.0C53.7,285.8 54.3,283.3 55.0,283.0C55.7,282.7 56.3,284.4 57.0,284.4C57.7,284.4 58.3,282.8 59.0,283.0C59.7,283.2 60.3,284.6 61.0,285.6C61.7,286.6 62.3,289.0 63.0,289.0C63.7,289.0 64.3,285.9 65.0,285.6C65.7,285.3 66.3,287.4 67.0,287.0C67.7,286.6 68.3,283.3 69.0,283.0C69.7,282.7 70.3,285.2 71.0,285.0C71.7,284.8 72.3,281.9 73.0,282.0C73.7,282.1 74.3,285.5 75.0,285.6C75.7,285.7 76.3,281.8 77.0,282.4C77.7,283.0 78.4,288.7 79.0,289.0C79.6,289.3 80.1,284.6 80.6,284.4C81.1,284.2 81.4,287.3 82.0,287.6C82.6,287.9 83.3,285.8 84.0,286.0C84.7,286.2 85.3,288.8 86.0,289.0C86.7,289.2 87.3,286.8 88.0,287.0C88.7,287.2 89.3,289.7 90.0,290.0C90.7,290.3 91.5,288.6 92.0,289.0C92.5,289.4 92.5,292.1 93.0,292.4C93.5,292.7 94.3,290.8 95.0,291.0C95.7,291.2 96.3,293.3 97.0,293.6C97.7,293.9 98.2,292.7 99.0,293.0C99.8,293.3 100.8,294.8 102.0,295.6C103.2,296.4 104.7,296.9 106.0,297.6C107.3,298.3 108.5,298.9 110.0,299.6C111.5,300.3 113.3,301.4 115.0,302.0C116.7,302.6 117.8,303.0 120.0,303.4C122.2,303.8 125.7,304.4 128.0,304.4C130.3,304.4 132.0,304.0 134.0,303.6C136.0,303.2 137.7,302.9 140.0,302.0C142.3,301.1 145.3,299.3 148.0,298.0C150.7,296.7 153.3,295.3 156.0,294.0C158.7,292.7 161.3,291.2 164.0,290.0C166.7,288.8 169.7,287.8 172.0,287.0C174.3,286.2 176.0,285.8 178.0,285.4C180.0,285.0 182.2,284.6 184.0,284.6C185.8,284.6 187.7,285.1 189.0,285.4C190.3,285.7 191.0,286.0 192.0,286.6C193.0,287.2 194.2,288.7 195.0,289.0C195.8,289.3 196.3,288.3 197.0,288.4C197.7,288.5 198.2,289.2 199.0,289.6C199.8,290.0 201.2,290.4 202.0,290.6C202.8,290.8 203.2,291.0 204.0,290.6C204.8,290.2 206.2,288.8 207.0,288.4C207.8,288.0 208.3,288.2 209.0,288.0C209.7,287.8 209.8,287.3 211.0,287.0C212.2,286.7 213.8,286.3 216.0,286.0C218.2,285.7 221.7,285.5 224.0,285.4C226.3,285.3 227.3,285.5 230.0,285.4C232.7,285.3 235.0,285.1 240.0,285.0C245.0,284.9 253.3,285.1 260.0,285.0C266.7,284.9 275.8,284.7 280.0,284.6C284.2,284.5 283.8,284.2 285.0,284.6C286.2,285.0 286.4,286.4 287.0,287.0C287.6,287.6 287.9,288.0 288.4,288.0C288.9,288.0 289.4,287.1 290.0,287.0C290.6,286.9 291.2,287.6 292.0,287.6C292.8,287.6 294.0,287.4 295.0,287.0C296.0,286.6 296.8,285.4 298.0,285.0C299.2,284.6 301.1,284.5 302.0,284.4C302.9,284.3 303.1,284.4 303.6,284.4C304.1,284.5 304.7,284.5 305.2,284.4C305.7,284.4 306.3,284.4 306.8,284.4C307.3,284.4 307.9,284.4 308.4,284.4C308.9,284.4 309.5,284.5 310.0,284.5C310.5,284.5 311.1,284.6 311.7,284.6C312.2,284.7 312.8,284.7 313.3,284.7C313.9,284.7 314.4,284.5 315.0,284.5C315.6,284.5 316.1,284.7 316.7,284.8C317.2,284.8 317.8,284.7 318.3,284.7C318.9,284.6 319.4,284.6 320.0,284.6C320.6,284.6 321.1,284.6 321.7,284.7C322.2,284.8 322.8,284.9 323.3,285.0C323.9,285.0 324.4,285.1 325.0,285.1C325.6,285.0 326.1,284.7 326.7,284.7C327.2,284.7 327.8,285.0 328.3,285.0C328.9,285.1 329.4,285.0 330.0,285.0C330.6,285.0 331.1,284.7 331.7,284.7C332.2,284.8 332.8,285.2 333.3,285.2C333.9,285.3 334.4,284.9 335.0,285.0C335.6,285.0 336.1,285.3 336.7,285.4C337.2,285.5 337.8,285.6 338.3,285.5C338.9,285.5 339.4,285.2 340.0,285.2C340.6,285.2 341.1,285.7 341.7,285.7C342.2,285.6 342.8,285.2 343.3,285.1C343.9,285.0 344.4,284.9 345.0,284.9C345.6,285.0 346.1,285.4 346.7,285.4C347.2,285.4 347.8,284.9 348.3,284.9C348.9,284.9 349.4,285.4 350.0,285.4C350.6,285.4 351.1,285.1 351.7,285.0C352.2,285.0 352.8,285.1 353.3,285.2C353.9,285.2 354.4,285.4 355.0,285.3C355.6,285.3 356.1,284.9 356.7,284.7C357.2,284.6 357.8,284.5 358.3,284.5C358.9,284.6 359.5,284.8 360.0,285.0C360.5,285.2 361.1,285.6 361.6,285.6C362.1,285.6 362.7,284.9 363.2,285.0C363.7,285.1 364.3,285.8 364.8,286.0C365.3,286.1 365.9,286.1 366.4,286.0C366.9,286.0 367.4,285.9 368.0,285.6C368.6,285.3 369.3,284.1 370.0,284.0C370.7,283.9 371.2,285.2 372.0,285.0C372.8,284.8 374.2,283.2 375.0,283.0C375.8,282.8 376.3,284.2 377.0,284.0C377.7,283.8 378.3,282.1 379.0,282.0C379.7,281.9 380.4,283.5 381.0,283.6C381.6,283.7 381.9,282.3 382.4,282.4C382.9,282.5 383.4,284.1 384.0,284.4C384.6,284.7 385.3,283.7 386.0,284.0C386.7,284.3 387.3,285.9 388.0,286.4C388.7,286.9 389.3,286.6 390.0,287.0C390.7,287.4 391.4,288.1 392.0,289.0C392.6,289.9 393.0,292.0 393.6,292.4C394.2,292.8 395.0,291.3 395.6,291.6C396.2,291.9 396.4,293.9 397.0,294.0C397.6,294.1 398.3,292.2 399.0,292.0C399.7,291.8 400.4,293.0 401.0,293.0C401.6,293.0 402.0,291.9 402.5,292.2C403.0,292.4 403.4,294.6 404.1,294.5C404.8,294.4 405.7,291.9 406.5,291.7C407.3,291.5 408.2,292.6 409.0,293.4C409.8,294.2 410.8,295.8 411.5,296.6C412.2,297.4 412.6,298.6 413.1,298.3C413.6,298.0 414.1,296.4 414.7,295.0C415.2,293.6 415.8,291.6 416.4,290.1C417.0,288.6 417.8,286.5 418.3,286.0C418.8,285.5 419.2,287.6 419.6,287.3C420.0,287.0 420.5,283.9 420.9,284.0C421.3,284.1 421.7,287.6 422.1,287.6C422.5,287.6 422.8,284.4 423.2,284.0C423.6,283.6 424.1,284.1 424.5,285.2C424.9,286.3 425.5,289.1 425.9,290.9C426.3,292.7 426.7,294.4 427.0,295.8C427.3,297.2 427.4,299.6 427.8,299.1C428.2,298.6 428.7,294.2 429.1,292.6C429.5,291.0 429.8,290.6 430.3,289.3C430.8,288.0 431.4,284.7 431.9,284.7C432.4,284.7 432.7,287.6 433.2,289.3C433.7,291.0 434.2,293.4 434.7,295.0C435.2,296.6 435.6,299.1 436.0,299.1C436.4,299.1 436.9,296.1 437.3,295.0C437.7,293.9 438.0,292.2 438.5,292.2C439.0,292.2 439.6,294.0 440.1,295.0C440.6,296.0 441.1,298.7 441.7,298.3C442.2,297.9 442.8,294.3 443.4,292.9C444.0,291.5 444.8,290.5 445.5,290.1C446.2,289.7 446.9,290.1 447.5,290.6C448.1,291.1 448.5,292.6 449.1,292.9C449.7,293.2 450.5,292.1 451.1,292.2C451.7,292.3 452.2,293.4 452.7,293.4C453.2,293.4 453.5,291.9 454.0,292.2C454.5,292.5 455.1,294.6 455.6,295.0C456.2,295.4 456.8,294.4 457.3,294.5C457.9,294.6 458.3,295.9 458.9,295.5C459.4,295.1 460.1,292.9 460.6,292.2C461.2,291.5 461.7,290.9 462.2,291.2C462.7,291.5 463.2,292.9 463.8,294.2C464.4,295.5 464.9,298.0 465.5,299.1C466.1,300.2 466.6,301.1 467.1,301.1C467.6,301.1 468.1,299.3 468.7,299.1C469.2,298.9 469.8,299.7 470.4,299.9C470.9,300.1 471.5,300.5 472.0,300.4C472.5,300.3 473.0,300.0 473.6,299.1C474.2,298.2 474.9,296.8 475.6,295.0C476.3,293.2 477.1,290.3 477.7,288.5C478.3,286.7 478.9,285.2 479.4,284.4C479.9,283.6 480.1,283.5 480.5,283.6C480.9,283.7 481.4,284.0 481.8,285.2C482.2,286.4 482.7,289.0 483.1,290.9C483.5,292.8 483.9,295.3 484.3,296.6C484.7,297.9 485.0,298.9 485.4,298.8C485.8,298.7 486.2,296.4 486.7,295.8C487.2,295.2 487.8,294.3 488.3,295.5C488.8,296.7 489.2,300.7 489.8,303.1C490.4,305.5 490.9,307.9 491.6,309.7C492.3,311.4 492.9,312.5 493.8,313.6C494.7,314.7 496.1,315.1 497.0,316.3C497.9,317.5 498.5,318.4 499.2,320.6C499.9,322.8 500.7,326.8 501.4,329.4C502.1,332.0 503.0,334.5 503.6,336.0C504.2,337.5 504.7,338.9 505.1,338.4C505.6,337.9 505.9,335.2 506.3,333.0C506.7,330.8 507.2,326.2 507.7,325.4C508.1,324.6 508.6,327.5 509.0,328.2C509.4,328.9 509.9,329.5 510.3,329.8C510.7,330.1 511.1,330.1 511.6,329.9C512.1,329.7 512.5,329.4 513.1,328.6C513.7,327.8 514.5,326.6 515.1,325.0C515.7,323.4 516.1,321.9 516.9,319.0C517.6,316.1 518.7,310.7 519.6,307.5C520.5,304.3 521.4,301.7 522.2,299.9C523.0,298.1 523.8,297.0 524.4,296.6C525.0,296.2 525.5,297.1 526.1,297.7C526.7,298.2 527.2,300.3 527.7,299.9C528.2,299.5 528.7,296.8 529.2,295.5C529.8,294.2 530.4,293.1 531.0,292.2C531.6,291.3 532.2,290.1 532.7,290.0C533.2,289.9 533.6,291.8 534.2,291.8C534.8,291.8 535.5,290.7 536.4,290.0C537.3,289.3 538.6,288.6 539.7,287.8C540.8,287.0 542.5,285.6 543.0,285.2" stroke="#17b26c" stroke-width="1.5"/>
</g>
<g stroke="#000" stroke-width="1.2" stroke-dasharray="4.6 1.7 1.3 1.7 1.3 1.8">
<line x1="127.7" y1="51.0" x2="127.7" y2="304.4"/>
<line x1="203.0" y1="45.0" x2="203.0" y2="299.0"/>
<line x1="392.3" y1="45.4" x2="392.3" y2="298.4"/>
<line x1="412.4" y1="46.0" x2="412.4" y2="299.0"/>
<line x1="427.0" y1="34.2" x2="427.0" y2="297.5"/>
<line x1="439.7" y1="44.4" x2="439.7" y2="297.5"/>
<line x1="471.0" y1="46.5" x2="471.0" y2="300.0"/>
<line x1="527.6" y1="47.4" x2="527.6" y2="300.0"/>
</g>
<g font-family="'Liberation Serif', 'Times New Roman', serif" fill="#000" stroke="#000" stroke-width="0.2">
<g font-size="15.5">
<text x="128.3" y="44.8" text-anchor="middle">I</text>
<text x="203.4" y="42.1" text-anchor="middle">II</text>
<text x="287.4" y="23.0" text-anchor="middle">III</text>
<text x="393.6" y="41.8" text-anchor="middle">III</text>
<text x="415.2" y="41.8" text-anchor="middle">IV</text>
<text x="428.7" y="27.3" text-anchor="middle">V</text>
<text x="440.2" y="41.8" text-anchor="middle">VI</text>
<text x="469.4" y="43.8" text-anchor="middle">VII</text>
<text x="526.8" y="41.5" text-anchor="middle">VIII</text>
<text x="260.0" y="41.3" text-anchor="start">Coconut shell</text>
<text x="261.0" y="101.1" text-anchor="start">Holocellulose</text>
<text x="275.0" y="142.0" text-anchor="start">Cellulose</text>
<text x="216.7" y="277.2" text-anchor="start">Hemicellulose removal</text>
</g>
<g font-size="17" text-anchor="middle">
<text x="22.0" y="367.5" text-anchor="middle">4000</text>
<text x="103.4" y="367.5" text-anchor="middle">3500</text>
<text x="184.8" y="367.5" text-anchor="middle">3000</text>
<text x="266.3" y="367.5" text-anchor="middle">2500</text>
<text x="347.7" y="367.5" text-anchor="middle">2000</text>
<text x="429.1" y="367.5" text-anchor="middle">1500</text>
<text x="510.5" y="367.5" text-anchor="middle">1000</text>
</g>
<text x="203.9" y="399.1" font-size="19" font-weight="bold" style="font-kerning:none">Wavenumber(cm<tspan font-size="12" dy="-7.5">-1</tspan><tspan dy="7.5">)</tspan></text>
</g>
</svg>
</body></html>
